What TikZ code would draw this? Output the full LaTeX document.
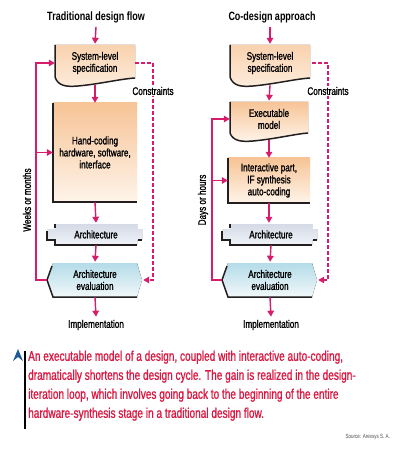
\documentclass[tikz,border=0pt]{standalone}
\usepackage{fontspec}
\setmainfont{Liberation Sans}[FakeStretch=0.75]
\newfontfamily\boxfont{Liberation Sans}[FakeStretch=0.74, FakeBold=1.2]
\newfontfamily\capfont{Liberation Sans}[FakeStretch=0.72, FakeBold=1.0]
\usetikzlibrary{arrows.meta}
\definecolor{mag}{RGB}{214,28,106}
\definecolor{capred}{RGB}{218,24,66}
\definecolor{capblue}{RGB}{30,90,150}
\definecolor{ybar}{RGB}{245,185,30}
\definecolor{dark}{RGB}{35,31,32}
\definecolor{peachT}{RGB}{247,196,150}
\definecolor{peachB}{RGB}{254,244,234}
\definecolor{specT}{RGB}{249,210,174}
\definecolor{specB}{RGB}{253,236,220}
\definecolor{archT}{RGB}{212,218,230}
\definecolor{archB}{RGB}{240,243,248}
\definecolor{evalT}{RGB}{180,220,232}
\definecolor{evalB}{RGB}{242,248,250}
\begin{document}
\begin{tikzpicture}[x=1pt,y=-1pt,
  arr/.style={draw=mag, line width=1.4pt, -{Triangle[length=6pt,width=6.5pt]}},
  cdash/.style={draw=mag, line width=1.2pt, dash pattern=on 3.5pt off 2.5pt, -{Triangle[length=6pt,width=6.5pt]}},
  edgeline/.style={draw=dark, line width=1.5pt},
  boxn/.style={inner sep=0pt, align=center, font=\boxfont\fontsize{11}{12}\selectfont},
  ttl/.style={inner sep=0pt, font=\bfseries\fontsize{12}{14}\selectfont},
  lbl/.style={inner sep=0pt, font=\boxfont\fontsize{11}{12}\selectfont},
]
\useasboundingbox (0,0) rectangle (400,454);
\fill[white] (0,0) rectangle (400,454);

% ================= LEFT COLUMN =================
\fill[top color=specT, bottom color=specB] (55,45) -- (135,45) -- (135,78)
  .. controls (120,79) and (100,84) .. (78,86) .. controls (66,87) and (58,86) .. (55,77) -- cycle;
\draw[edgeline] (55,45) -- (55,77) .. controls (58,86) and (66,87) .. (78,86)
  .. controls (100,84) and (120,79) .. (135,78);
\fill[top color=peachT, bottom color=peachB] (53,103) rectangle (137,202);
\draw[edgeline] (53,103) -- (53,202) -- (137,202);
\fill[top color=archT, bottom color=archB] (55,224) -- (137,224) -- (137,229) -- (142,229) -- (142,240)
  -- (137,240) -- (137,245) -- (55,245) -- (55,240) -- (47,240) -- (47,229) -- (55,229) -- cycle;
\draw[edgeline] (55,224) -- (55,228);
\draw[edgeline] (47,231) -- (47,240) -- (55,240) -- (55,245) -- (137,245);
\draw[edgeline] (138,240) -- (142,240);
\fill[top color=evalT, bottom color=evalB] (53,263) -- (137,263) -- (142,280) -- (137,297)
  -- (53,297) -- (47,280) -- cycle;
\draw[edgeline] (52,266) -- (47,280) -- (53,297) -- (137,297);

\node[ttl] (t1) at (96,17) {Traditional design flow};
\node[boxn, minimum width=80pt, minimum height=38pt] (spec1) at (95,63) {System-level\\specification};
\node[boxn, minimum width=84pt, minimum height=99pt] (hand) at (95,152.5) {Hand-coding\\hardware, software,\\interface};
\node[boxn, minimum width=82pt, minimum height=21pt] (arch1) at (96,234.5) {Architecture};
\node[boxn, minimum width=84pt, minimum height=34pt] (eval1) at (95,280) {Architecture\\evaluation};
\node[lbl] (impl1) at (96,325) {Implementation};

\draw[arr] ([yshift=-4pt]t1.south) -- (spec1.north);
\draw[arr] ([yshift=-3pt]spec1.south) -- (hand.north);
\draw[arr] (hand.south) -- ([yshift=1pt]arch1.north);
\draw[arr] (arch1.south) -- ([yshift=1pt]eval1.north);
\draw[arr] (eval1.south) -- ([yshift=3pt]impl1.north);

\coordinate (fbx1) at (36,0);
\draw[arr] ([xshift=-6pt]eval1.west) -| (fbx1 |- spec1.west) -- (spec1.west);
\draw[arr] (fbx1 |- hand.west) -- (hand.west);
\coordinate (cx1) at (153,280);
\draw[cdash] (spec1.east) -| (cx1) -- ([xshift=6pt]eval1.east);
\node[lbl, fill=white, inner sep=1pt] (c1) at (153,91) {Constraints};
\node[lbl, rotate=90] (w1) at (27,200) {Weeks or months};

% ================= RIGHT COLUMN =================
\fill[top color=specT, bottom color=specB] (230,45) -- (310,45) -- (310,78)
  .. controls (295,79) and (275,84) .. (253,86) .. controls (241,87) and (233,86) .. (230,77) -- cycle;
\draw[edgeline] (230,45) -- (230,77) .. controls (233,86) and (241,87) .. (253,86)
  .. controls (275,84) and (295,79) .. (310,78);
\fill[top color=peachT, bottom color=peachB] (230,102) -- (308,102) -- (308,133)
  .. controls (295,134) and (275,139) .. (253,141) .. controls (241,142) and (233,141) .. (230,133) -- cycle;
\draw[edgeline] (230,102) -- (230,133) .. controls (233,141) and (241,142) .. (253,141)
  .. controls (275,139) and (295,134) .. (308,133);
\fill[top color=peachT, bottom color=peachB] (228,158) rectangle (310,203);
\draw[edgeline] (228,158) -- (228,203) -- (310,203);
\begin{scope}[xshift=175pt]
\fill[top color=archT, bottom color=archB] (55,224) -- (137,224) -- (137,229) -- (142,229) -- (142,240)
  -- (137,240) -- (137,245) -- (55,245) -- (55,240) -- (47,240) -- (47,229) -- (55,229) -- cycle;
\draw[edgeline] (55,224) -- (55,228);
\draw[edgeline] (47,231) -- (47,240) -- (55,240) -- (55,245) -- (137,245);
\draw[edgeline] (138,240) -- (142,240);
\fill[top color=evalT, bottom color=evalB] (53,263) -- (137,263) -- (142,280) -- (137,297)
  -- (53,297) -- (47,280) -- cycle;
\draw[edgeline] (52,266) -- (47,280) -- (53,297) -- (137,297);
\end{scope}

\node[ttl] (t2) at (272,17) {Co-design approach};
\node[boxn, minimum width=80pt, minimum height=38pt] (spec2) at (270,63) {System-level\\specification};
\node[boxn, minimum width=78pt, minimum height=36pt] (exec) at (269,119) {Executable\\model};
\node[boxn, minimum width=82pt, minimum height=45pt] (inter) at (269,180.5) {Interactive part,\\IF synthesis\\auto-coding};
\node[boxn, minimum width=82pt, minimum height=21pt] (arch2) at (271,234.5) {Architecture};
\node[boxn, minimum width=84pt, minimum height=34pt] (eval2) at (270,280) {Architecture\\evaluation};
\node[lbl] (impl2) at (271,325) {Implementation};

\draw[arr] ([yshift=-4pt]t2.south -| spec2.north) -- (spec2.north);
\draw[arr] ([yshift=-3pt]spec2.south) -- (exec.north);
\draw[arr] ([yshift=-3pt]exec.south) -- (inter.north);
\draw[arr] (inter.south) -- ([yshift=1pt]inter.south |- arch2.north);
\draw[arr] (arch2.south) -- ([yshift=1pt]eval2.north);
\draw[arr] (eval2.south) -- ([yshift=3pt]impl2.north);

\coordinate (fbx2) at (212,0);
\draw[arr] ([xshift=-6pt]eval2.west) -| (fbx2 |- exec.west) -- (exec.west);
\draw[arr] (fbx2 |- inter.west) -- (inter.west);
\coordinate (cx2) at (328,280);
\draw[cdash] ([xshift=2pt]spec2.east) -| (cx2) -- ([xshift=6pt]eval2.east);
\node[lbl, fill=white, inner sep=1pt] (c2) at (328,91) {Constraints};
\node[lbl, rotate=90] (w2) at (203,200) {Days or hours};

% ================= CAPTION =================
\fill[capblue] (13,361) -- (18,349) -- (23,361) -- (18,357) -- cycle;
\draw[ybar, line width=1.6pt] (25,351) -- (25,429);
\node[anchor=north west, inner sep=0pt, align=left, text=capred,
  font=\capfont\fontsize{14}{19}\selectfont] (cap) at (28,350.5)
  {An executable model of a design, coupled with interactive auto-coding,\\
   dramatically shortens the design cycle. The gain is realized in the design-\\
   iteration loop, which involves going back to the beginning of the entire\\
   hardware-synthesis stage in a traditional design flow.};
\node[anchor=east, inner sep=0pt, text=dark!80, font=\fontsize{6}{7}\selectfont] (src) at (390,437) {Source: Arexsys S. A.};
\end{tikzpicture}
\end{document}
